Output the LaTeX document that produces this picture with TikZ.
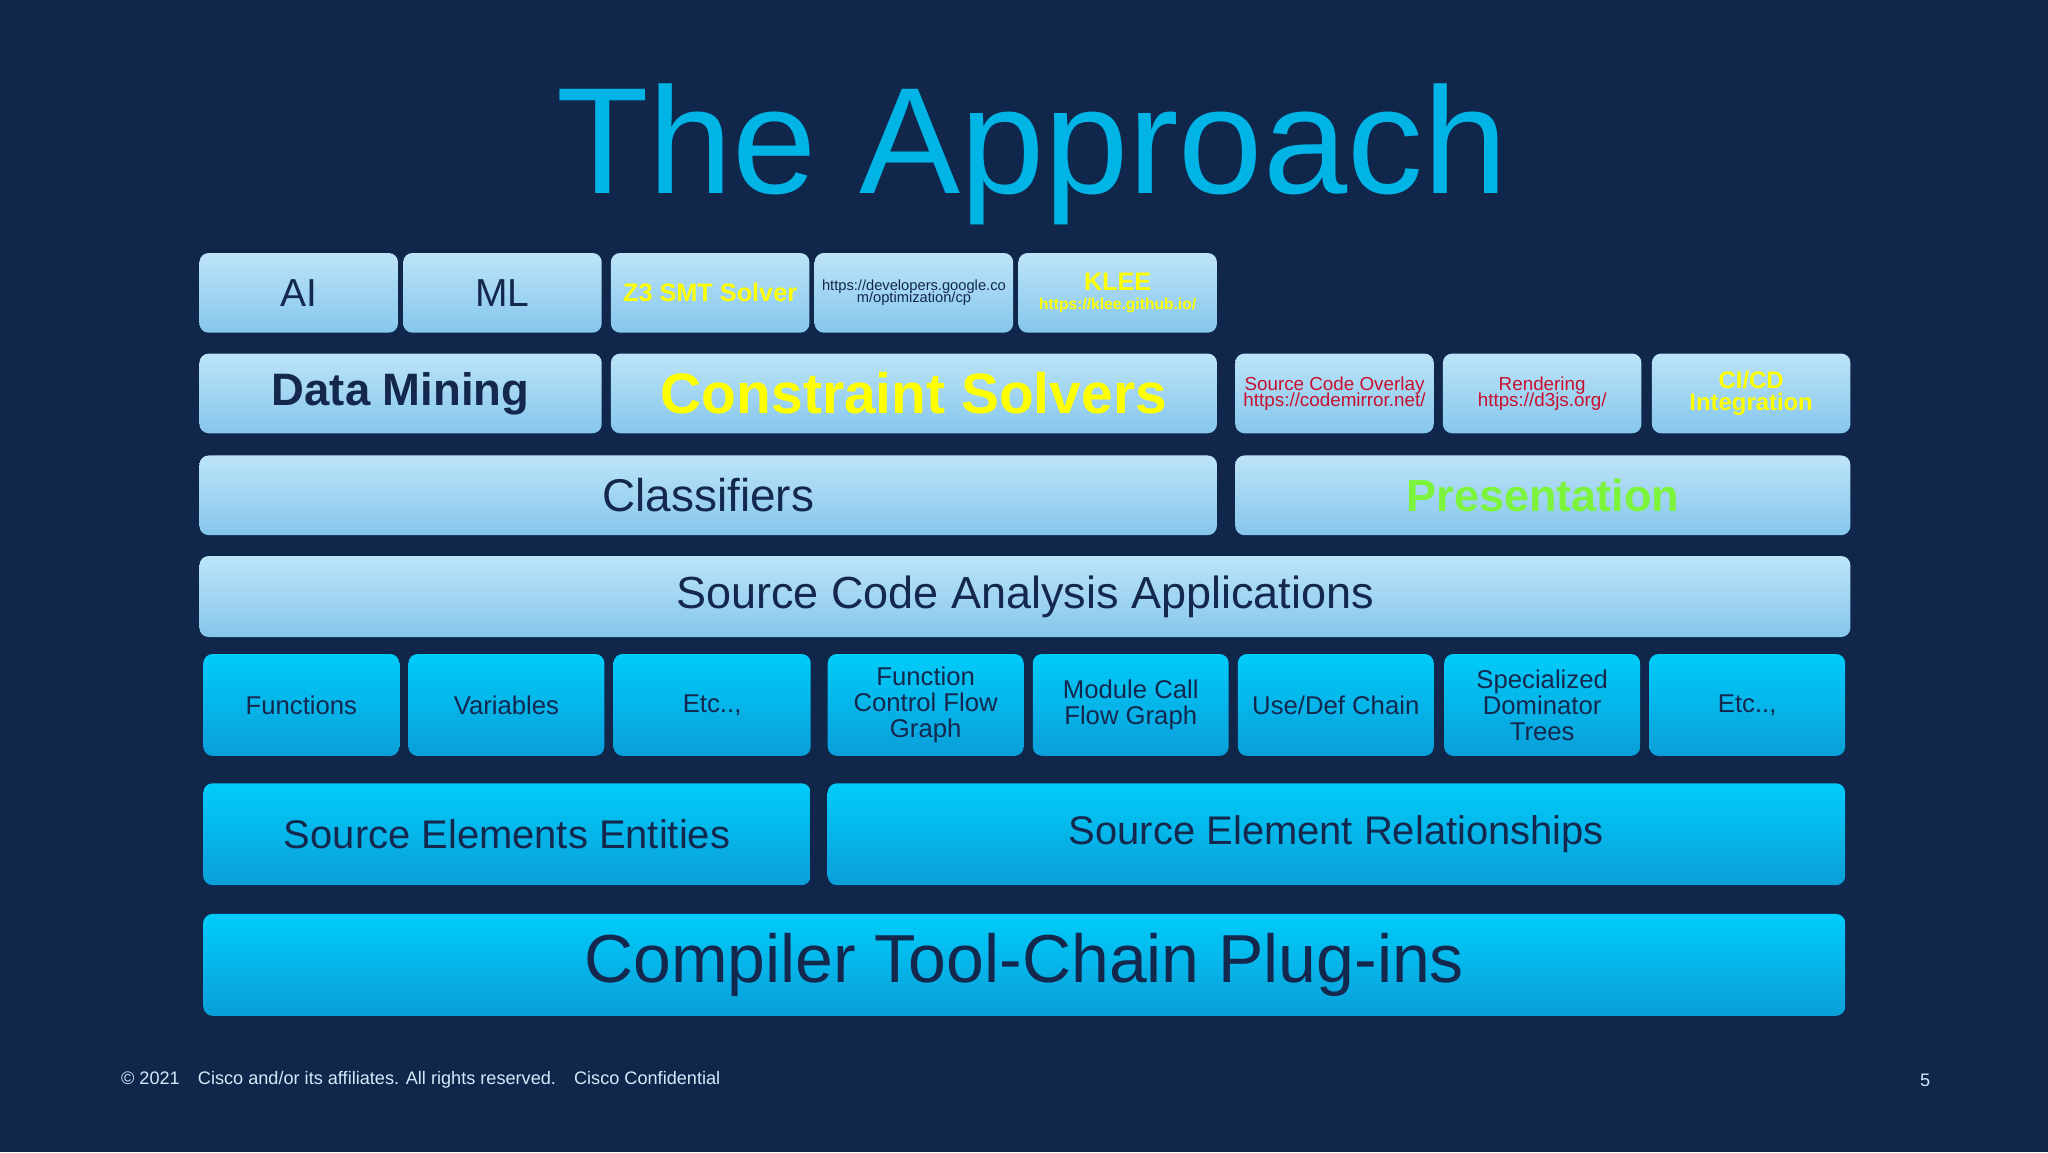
\documentclass[tikz,border=0pt]{standalone}
\usepackage{fontspec}
\setmainfont{Liberation Sans}
\definecolor{bg}{HTML}{10264B}
\definecolor{ttl}{HTML}{00B4E6}
\definecolor{ink}{HTML}{14284E}
\definecolor{lbtop}{HTML}{BCE4F8}
\definecolor{lbbot}{HTML}{86C6EC}
\definecolor{cytop}{HTML}{00CCFA}
\definecolor{cybot}{HTML}{0A9ED8}
\definecolor{yel}{HTML}{FFFF00}
\definecolor{grn}{HTML}{7CF43C}
\definecolor{red}{HTML}{C8102E}
\newcommand{\fs}[1]{\fontsize{#1}{1.1\dimexpr #1\relax}\selectfont}
\begin{document}
\begin{tikzpicture}[x=1cm,y=-1cm,
  box/.style={anchor=north west,inner sep=0pt,rounded corners=2pt,align=center,text=ink},
  lb/.style={box,top color=lbtop,bottom color=lbbot},
  cy/.style={box,top color=cytop,bottom color=cybot},
  r1/.style={minimum height=0.61cm},
  r2/.style={minimum height=0.78cm}]
  \fill[bg] (0,0) rectangle (15.68,8.82);
  \useasboundingbox (0,0) rectangle (15.68,8.82);

  \node[text=ttl,font=\fs{33pt}] (title) at (7.9,1.18) {The Approach};

  % row 1
  \node[lb,r1,minimum width=1.52cm,font=\fs{8.5pt}] (ai) at (1.52,1.93) {AI};
  \node[lb,r1,minimum width=1.52cm,font=\fs{8.5pt}] (ml) at (3.08,1.93) {ML};
  \node[lb,r1,minimum width=1.52cm,font=\bfseries\fs{5.5pt},text=yel] (z3) at (4.67,1.93) {Z3 SMT Solver};
  \node[lb,r1,minimum width=1.52cm,font=\fs{3.2pt}] (cp) at (6.23,1.93) {https://developers.google.co\\[-1pt]m/optimization/cp};
  \node[lb,r1,minimum width=1.52cm,font=\bfseries\fs{5.5pt},text=yel] (klee) at (7.79,1.93) {KLEE\\[-2pt]{\fs{3.4pt}https://klee.github.io/}};

  % row 2
  \node[lb,r1,minimum width=3.08cm,font=\bfseries\fs{9.9pt}] (dm) at (1.52,2.70) {Data Mining};
  \node[lb,r1,minimum width=4.64cm,font=\bfseries\fs{12.4pt},text=yel] (cs) at (4.67,2.70) {Constraint Solvers};
  \node[lb,r1,minimum width=1.52cm,font=\fs{4.1pt},text=red] (sco) at (9.45,2.70) {Source Code Overlay\\[-1pt]https://codemirror.net/};
  \node[lb,r1,minimum width=1.52cm,font=\fs{4.1pt},text=red] (rd) at (11.04,2.70) {Rendering\\[-1pt]https://d3js.org/};
  \node[lb,r1,minimum width=1.52cm,font=\bfseries\fs{5.2pt},text=yel] (ci) at (12.64,2.70) {CI/CD\\[-1pt]Integration};

  % row 3
  \node[lb,r1,minimum width=7.79cm,font=\fs{10pt}] (cl) at (1.52,3.48) {Classifiers};
  \node[lb,r1,minimum width=4.71cm,font=\bfseries\fs{9.8pt},text=grn] (pr) at (9.45,3.48) {Presentation};

  % row 4
  \node[lb,minimum height=0.62cm,minimum width=12.64cm,font=\fs{9.8pt}] (sca) at (1.52,4.25) {Source Code Analysis Applications};

  % row 5
  \node[cy,r2,minimum width=1.50cm,font=\fs{5.6pt}] (fn) at (1.55,5.00) {Functions};
  \node[cy,r2,minimum width=1.50cm,font=\fs{5.6pt}] (va) at (3.12,5.00) {Variables};
  \node[cy,r2,minimum width=1.51cm,font=\fs{5.6pt}] (et1) at (4.69,5.00) {Etc..,};
  \node[cy,r2,minimum width=1.50cm,font=\fs{5.6pt}] (fc) at (6.33,5.00) {Function\\[-0.5pt]Control Flow\\[-0.5pt]Graph};
  \node[cy,r2,minimum width=1.50cm,font=\fs{5.6pt}] (mc) at (7.90,5.00) {Module Call\\[-0.5pt]Flow Graph};
  \node[cy,r2,minimum width=1.50cm,font=\fs{5.6pt}] (ud) at (9.47,5.00) {Use/Def Chain};
  \node[cy,r2,minimum width=1.50cm,font=\fs{5.6pt}] (sd) at (11.05,5.00) {Specialized\\[-0.5pt]Dominator\\[-0.5pt]Trees};
  \node[cy,r2,minimum width=1.50cm,font=\fs{5.6pt}] (et2) at (12.62,5.00) {Etc..,};

  % row 6
  \node[cy,r2,minimum width=4.65cm,font=\fs{8.7pt}] (see) at (1.55,5.99) {Source Elements Entities};
  \node[cy,r2,minimum width=7.79cm,font=\fs{8.7pt}] (ser) at (6.33,5.99) {Source Element Relationships};

  % row 7
  \node[cy,r2,minimum width=12.57cm,font=\fs{14.8pt}] (ctc) at (1.55,6.99) {Compiler Tool-Chain Plug-ins};

  % footer
  \node[anchor=west,text=lbtop!70!white,font=\fs{3.95pt},inner sep=0] (ft) at (0.92,8.27) {\textcopyright\ 2021\quad Cisco and/or its affiliates. All rights reserved.\quad Cisco Confidential};
  \node[text=lbtop!70!white,font=\fs{3.95pt},inner sep=0] (pg) at (14.74,8.27) {5};
\end{tikzpicture}
\end{document}
